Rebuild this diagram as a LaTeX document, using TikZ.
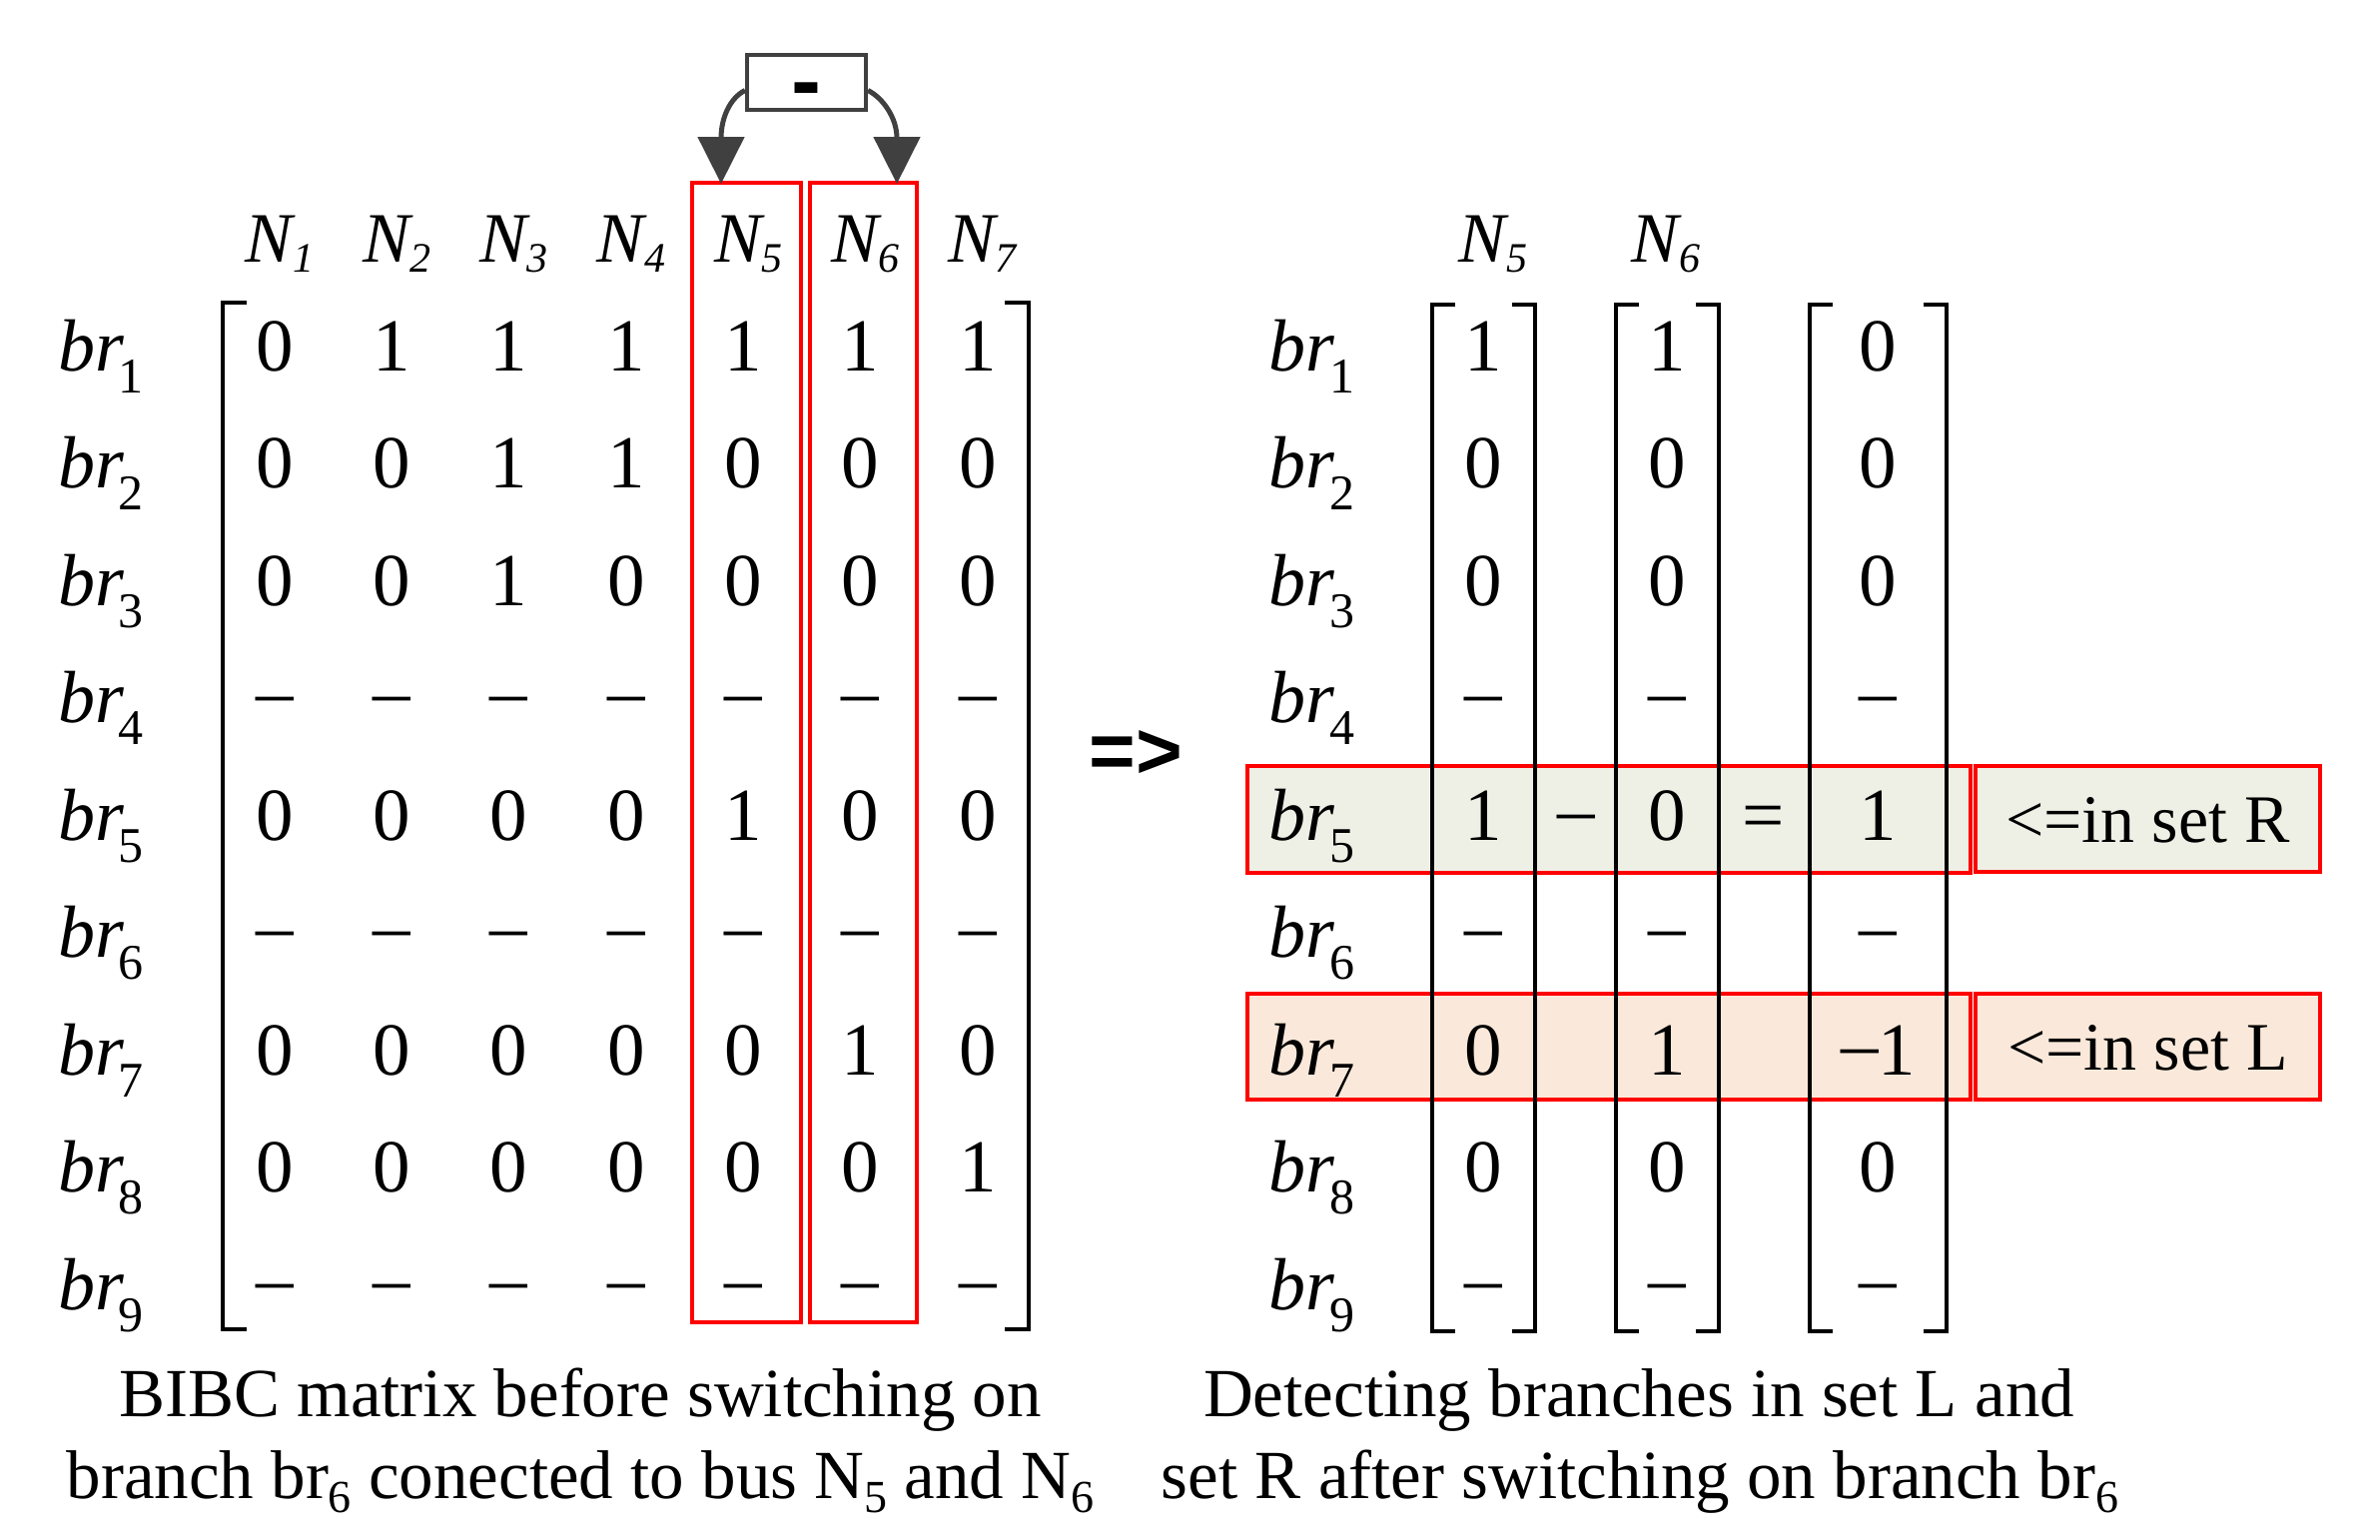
\documentclass[tikz,border=0pt]{standalone}
\usepackage{fontspec}
\setmainfont{Liberation Serif}
\newfontfamily\arialf{Liberation Sans}
\usetikzlibrary{arrows.meta,calc}
\definecolor{grayarr}{HTML}{404040}
\definecolor{fillR}{HTML}{EEF0E6}
\definecolor{fillL}{HTML}{FAE9DA}
\newcommand\fs[1]{\fontsize{#1}{#1}\selectfont}
\newcommand\mn{\raisebox{6pt}{–}}
\newcommand\brl[1]{{\fs{74}\itshape br}\kern-5pt\raisebox{-22pt}{\fs{50}#1}}
\newcommand\Nl[1]{{\fs{71}\itshape N}\raisebox{-10pt}{\fs{42}\itshape #1}}
\newcommand\sbs[1]{\raisebox{-14pt}{\fs{46}#1}}
\begin{document}
\begin{tikzpicture}[x=1pt,y=-1pt,
  ent/.style={anchor=base,inner sep=0pt,font=\fs{75}},
  hdr/.style={anchor=base,inner sep=0pt},
  redbox/.style={draw=red,line width=3.5pt,inner sep=0pt},
  brk/.style={line width=3.5pt},
  arr/.style={draw=grayarr,line width=5pt,-{Triangle[width=46pt,length=47pt]}},
  captxt/.style={anchor=base,inner sep=0pt,font=\fs{69}}]
\useasboundingbox[fill=white] (0,0) rectangle (2383,1542);

% top minus box and arrows
\node[draw=grayarr,line width=4pt,minimum width=119pt,minimum height=55pt,inner sep=0pt,
      text height=0pt,text depth=0pt,font=\arialf\bfseries\fs{90}] (minus) at (807.5,82.5)
      {\smash{\raisebox{-29pt}{-}}};

% red column boxes (left matrix)
\node[redbox,minimum width=109pt,minimum height=1141pt] (c5) at (747.5,753.5) {};
\node[redbox,minimum width=107pt,minimum height=1141pt] (c6) at (864.5,753.5) {};
\coordinate (t5) at (722,184);
\coordinate (t6) at (898,184);
\draw[arr] ($(minus.west)+(0,8)$) .. controls (731,98) and (722,118) .. (t5);
\draw[arr] ($(minus.east)+(0,8)$) .. controls (884,98) and (898,118) .. (t6);

% left matrix brackets
\draw[brk] (247,303) -- (223,303) -- (223,1331) -- (247,1331);
\draw[brk] (1006,303) -- (1030,303) -- (1030,1331) -- (1006,1331);

% headers left
\foreach \i in {1,...,7}
  \node[hdr] (N\i) at ({280+117.3*(\i-1)},262) {\Nl{\i}};

% left matrix entries
\foreach \row [count=\i] in {{0,1,1,1,1,1,1},{0,0,1,1,0,0,0},{0,0,1,0,0,0,0},
  {\mn,\mn,\mn,\mn,\mn,\mn,\mn},{0,0,0,0,1,0,0},{\mn,\mn,\mn,\mn,\mn,\mn,\mn},
  {0,0,0,0,0,1,0},{0,0,0,0,0,0,1},{\mn,\mn,\mn,\mn,\mn,\mn,\mn}}{
  \foreach \v [count=\j] in \row
    \node[ent] (L\i-\j) at ({275+117.3*(\j-1)},{371+117.5*(\i-1)}) {\v};
}

% row labels
\foreach \i in {1,...,9}{
  \node[hdr,anchor=base west] (bl\i) at (58,{371+117.5*(\i-1)}) {\brl{\i}};
}

% arrow =>
\node[inner sep=0pt,font=\arialf\bfseries\fs{80}] (impl) at (1137,755) {=>};

% highlighted rows (right)
\node[redbox,fill=fillR,minimum width=724pt,minimum height=107pt] (rowR) at (1611,820.5) {};
\node[redbox,fill=fillR,minimum width=345pt,minimum height=106pt,font=\fs{68},
      text height=46pt,text depth=0pt] (labR) at (2150.5,820) {<=in set R};
\node[redbox,fill=fillL,minimum width=724pt,minimum height=106pt] (rowL) at (1611,1048) {};
\node[redbox,fill=fillL,minimum width=345pt,minimum height=106pt,font=\fs{68},
      text height=46pt,text depth=0pt] (labL) at (2150.5,1048) {<=in set L};

% right brackets
\foreach \a/\b in {1434/1537,1618/1721,1812/1949}{
  \draw[brk] (\a+23,305) -- (\a,305) -- (\a,1333) -- (\a+23,1333);
  \draw[brk] (\b-23,305) -- (\b,305) -- (\b,1333) -- (\b-23,1333);
}

% right headers
\node[hdr] (RN5) at (1495,262) {\Nl{5}};
\node[hdr] (RN6) at (1668,262) {\Nl{6}};

% right row labels
\foreach \i in {1,...,9}{
  \node[hdr,anchor=base west] (rl\i) at (1270,{371+117.5*(\i-1)}) {\brl{\i}};
}

% right entries
\foreach \v [count=\i] in {1,0,0,\mn,1,\mn,0,0,\mn}
  \node[ent] (A\i) at (1485.5,{371+117.5*(\i-1)}) {\v};
\foreach \v [count=\i] in {1,0,0,\mn,0,\mn,1,0,\mn}
  \node[ent] (B\i) at (1669.5,{371+117.5*(\i-1)}) {\v};
\foreach \v [count=\i] in {0,0,0,\mn,1,\mn,\mn1,0,\mn}
  \node[ent] (C\i) at (1880.5,{371+117.5*(\i-1)}) {\v};
\node[ent] (opm) at (1578,841) {\mn};
\node[ent] (opeq) at (1766,841) {=};

% captions
\node[captxt] (cap1) at (581,1418) {BIBC matrix before switching on};
\node[captxt] (cap2) at (581,1500) {branch br\sbs{6} conected to bus N\sbs{5} and N\sbs{6}};
\node[captxt] (cap3) at (1641,1418) {Detecting branches in set L and};
\node[captxt] (cap4) at (1642,1500) {set R after switching on branch br\sbs{6}};
\end{tikzpicture}
\end{document}
